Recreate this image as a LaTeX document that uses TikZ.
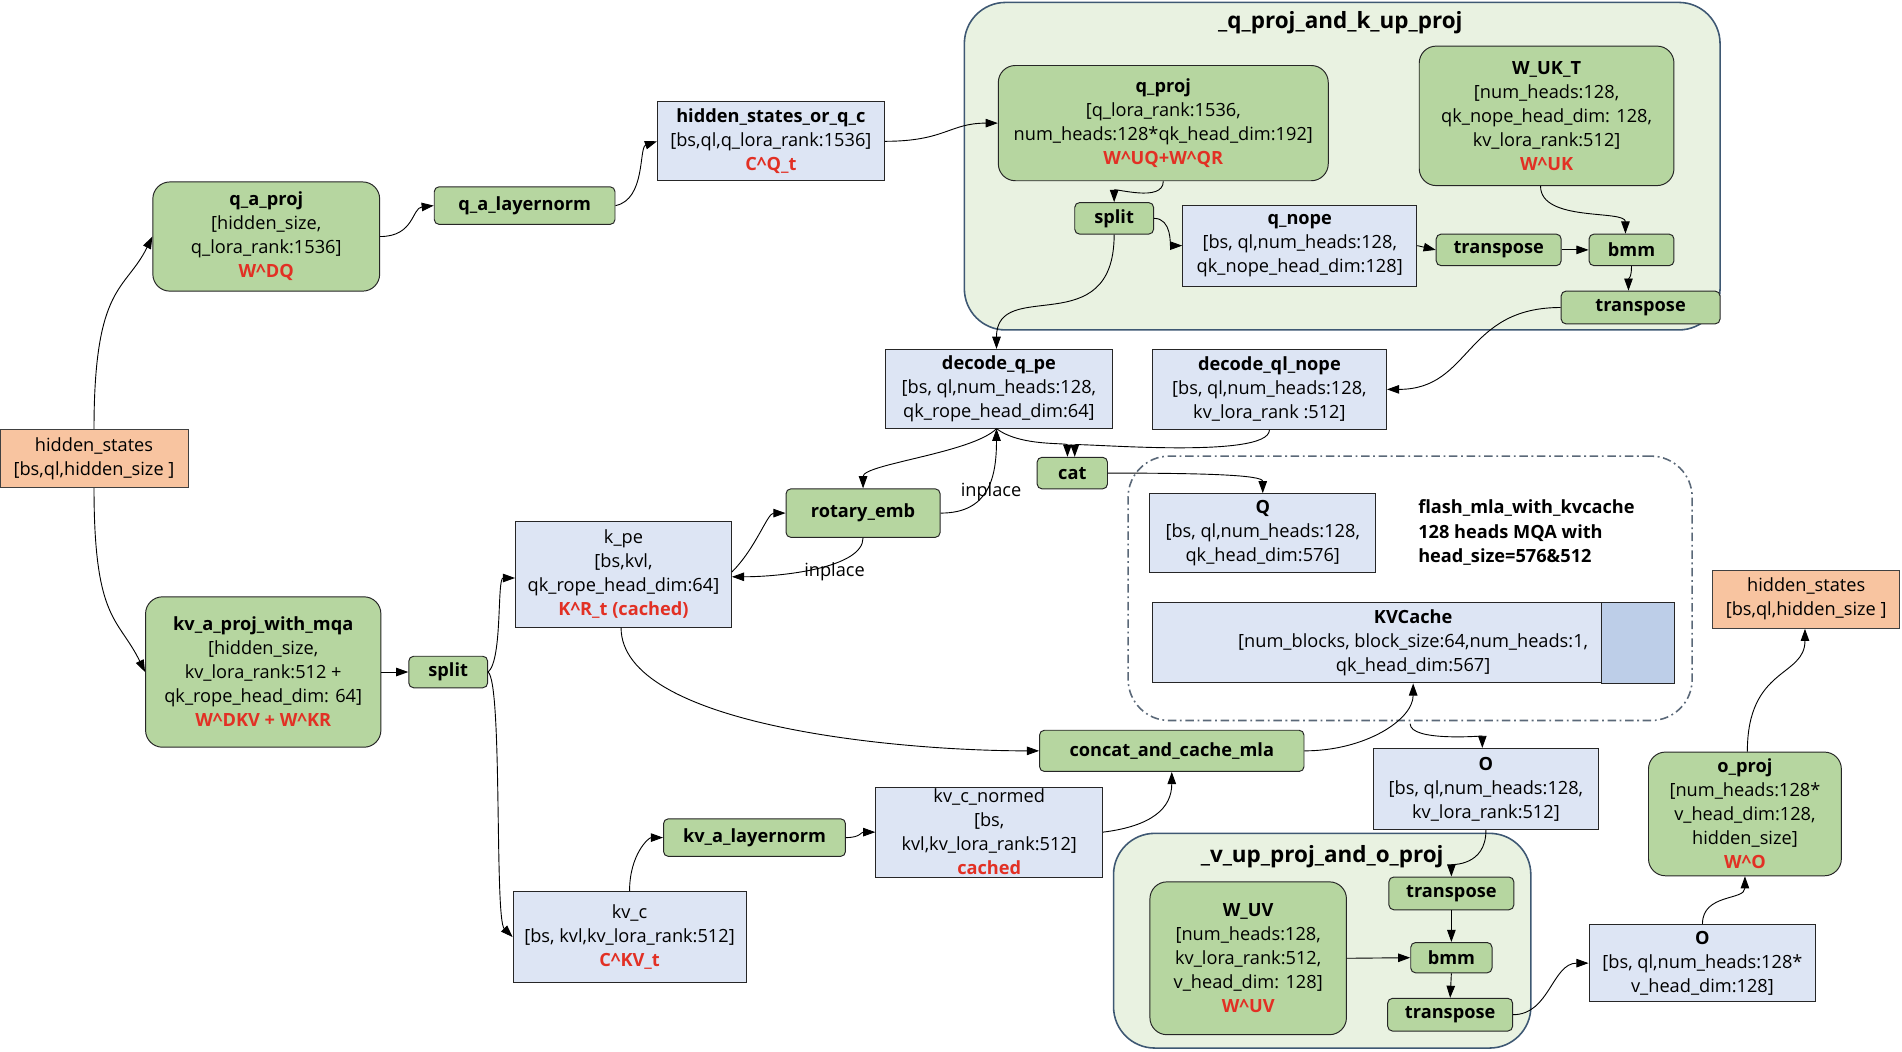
\documentclass[tikz,border=0pt]{standalone}
\usepackage{fontspec}
\setmainfont{Open Sans}
\usetikzlibrary{arrows.meta}
\definecolor{gfill}{RGB}{182,214,160}
\definecolor{cfill}{RGB}{233,242,225}
\definecolor{bfill}{RGB}{221,229,244}
\definecolor{kvdark}{RGB}{189,206,232}
\definecolor{ofill}{RGB}{248,196,160}
\definecolor{cborder}{RGB}{62,88,115}
\definecolor{dborder}{RGB}{90,104,120}
\definecolor{myred}{RGB}{226,48,36}
\newcommand\rt[1]{\textcolor{myred}{\bfseries #1}}
\newcommand\cc{\textasciicircum}
\newcommand\bx[7]{\node[#2,minimum width={#5-#3},minimum height={#6-#4}] (#1) at ({(#3+#5)/2},{(#4+#6)/2}) {#7};}
\tikzset{
  base/.style={draw=black!85,line width=0.8pt,align=center,inner sep=1pt,
    font=\fontsize{15}{19.8}\selectfont},
  gbig/.style={base,fill=gfill,rounded corners=14pt},
  gop/.style={base,fill=gfill,rounded corners=4pt,font=\fontsize{15}{19.8}\selectfont\bfseries},
  bbox/.style={base,fill=bfill},
  obox/.style={base,fill=ofill,draw=black!75},
  cont/.style={draw=cborder,line width=1.3pt,fill=cfill,rounded corners=34pt},
  dcont/.style={draw=dborder,line width=1.3pt,dash pattern=on 7pt off 3pt on 1.5pt off 3pt,rounded corners=34pt},
  conn/.style={-{Triangle[length=10pt,width=7pt]},line width=0.75pt,black},
  lbl/.style={font=\fontsize{15}{17}\selectfont,inner sep=0pt},
  ttl/.style={font=\fontsize{18.5}{21}\selectfont\bfseries,inner sep=0pt}
}
\begin{document}
\begin{tikzpicture}[x=1pt,y=-1pt]
\useasboundingbox (0,0) rectangle (1568,867);
% containers
\node[cont,minimum width=623,minimum height=270] (c1) at (1106.5,137) {};
\node[ttl] (c1t) at (1105,19) {\_q\_proj\_and\_k\_up\_proj};
\node[dcont,minimum width=465,minimum height=218] (fl) at (1162.5,485) {};
\node[cont,minimum width=344,minimum height=177] (c2) at (1090,775.5) {};
\node[ttl] (c2t) at (1090,706) {\_v\_up\_proj\_and\_o\_proj};
% nodes
\bx{hsl}{obox}{0}{354}{155}{402}{hidden\_states\\{}[bs,ql,hidden\_size ]}
\bx{qap}{gbig}{126}{150}{313}{240}{\textbf{q\_a\_proj}\\{}[hidden\_size,\\q\_lora\_rank:1536]\\\rt{W\cc{}DQ}}
\bx{qal}{gop}{358}{154}{507}{185}{q\_a\_layernorm}
\bx{hsqc}{bbox}{542}{84}{729}{149}{\textbf{hidden\_states\_or\_q\_c}\\{}[bs,ql,q\_lora\_rank:1536]\\\rt{C\cc{}Q\_t}}
\bx{qproj}{gbig}{823}{54}{1095}{149}{\textbf{q\_proj}\\{}[q\_lora\_rank:1536,\\num\_heads:128*qk\_head\_dim:192]\\\rt{W\cc{}UQ+W\cc{}QR}}
\bx{wukt}{gbig}{1170}{38}{1380}{153}{\textbf{W\_UK\_T}\\{}[num\_heads:128,\\qk\_nope\_head\_dim: 128,\\kv\_lora\_rank:512]\\\rt{W\cc{}UK}}
\bx{sp1}{gop}{886}{167}{951}{193}{split}
\bx{qnope}{bbox}{975}{169}{1168}{236}{\textbf{q\_nope}\\{}[bs, ql,num\_heads:128,\\qk\_nope\_head\_dim:128]}
\bx{tr1}{gop}{1184}{193}{1287}{219}{transpose}
\bx{bmm1}{gop}{1310}{193}{1380}{219}{bmm}
\bx{tr2}{gop}{1287}{240}{1418}{267}{transpose}
\bx{dqpe}{bbox}{730}{288}{917}{353}{\textbf{decode\_q\_pe}\\{}[bs, ql,num\_heads:128,\\qk\_rope\_head\_dim:64]}
\bx{dqln}{bbox}{950}{288}{1143}{354}{\textbf{decode\_ql\_nope}\\{}[bs, ql,num\_heads:128,\\kv\_lora\_rank :512]}
\bx{cat}{gop}{855}{377}{913}{403}{cat}
\bx{rot}{gop}{648}{403}{775}{443}{rotary\_emb}
\bx{kpe}{bbox}{425}{430}{603}{517}{k\_pe\\{}[bs,kvl,\\qk\_rope\_head\_dim:64]\\\rt{K\cc{}R\_t (cached)}}
\bx{Q}{bbox}{948}{407}{1134}{472}{\textbf{Q}\\{}[bs, ql,num\_heads:128,\\qk\_head\_dim:576]}
\node[anchor=west,align=left,inner sep=0pt,font=\fontsize{15}{20}\selectfont\bfseries] (flt) at (1169,439) {flash\_mla\_with\_kvcache\\128 heads MQA with\\head\_size=576\&512};
\bx{KV}{bbox}{950}{497}{1380}{563}{\textbf{KVCache}\\{}[num\_blocks, block\_size:64,num\_heads:1,\\qk\_head\_dim:567]}
\draw[fill=kvdark,line width=0.8pt,draw=black!85] ([xshift=-60pt]KV.north east) rectangle (KV.south east);
\bx{hsr}{obox}{1412}{470}{1566}{518}{hidden\_states\\{}[bs,ql,hidden\_size ]}
\bx{kva}{gbig}{120}{492}{314}{616}{\textbf{kv\_a\_proj\_with\_mqa}\\{}[hidden\_size,\\kv\_lora\_rank:512 +\\qk\_rope\_head\_dim: 64]\\\rt{W\cc{}DKV + W\cc{}KR}}
\bx{sp2}{gop}{337}{541}{402}{567}{split}
\bx{concat}{gop}{857}{602}{1075}{636}{concat\_and\_cache\_mla}
\bx{kval}{gop}{547}{675}{697}{706}{kv\_a\_layernorm}
\bx{kvcn}{bbox}{722}{649}{909}{723}{kv\_c\_normed\\{}[bs,\\kvl,kv\_lora\_rank:512]\\\rt{cached}}
\bx{kvc}{bbox}{423}{735}{615}{810}{kv\_c\\{}[bs, kvl,kv\_lora\_rank:512]\\\rt{C\cc{}KV\_t}}
\bx{Om}{bbox}{1132}{617}{1318}{684}{\textbf{O}\\{}[bs, ql,num\_heads:128,\\kv\_lora\_rank:512]}
\bx{wuv}{gbig}{948}{727}{1110}{853}{\textbf{W\_UV}\\{}[num\_heads:128,\\kv\_lora\_rank:512,\\v\_head\_dim: 128]\\\rt{W\cc{}UV}}
\bx{trb1}{gop}{1145}{723}{1248}{750}{transpose}
\bx{bmmb}{gop}{1163}{777}{1230}{802}{bmm}
\bx{trb2}{gop}{1144}{823}{1247}{850}{transpose}
\bx{Obr}{bbox}{1310}{762}{1497}{826}{\textbf{O}\\{}[bs, ql,num\_heads:128*\\v\_head\_dim:128]}
\bx{oproj}{gbig}{1359}{620}{1518}{722}{\textbf{o\_proj}\\{}[num\_heads:128*\\v\_head\_dim:128,\\hidden\_size]\\\rt{W\cc{}O}}
% labels
\node[lbl] (ip1) at (817,405) {inplace};
\node[lbl] (ip2) at (688,471) {inplace};
% connectors
\draw[conn] (hsl.north) .. controls +(0,-120) and +(-22,45) .. (qap.west);
\draw[conn] (hsl.south) .. controls +(0,110) and +(-22,-45) .. (kva.west);
\draw[conn] (qap.east) .. controls +(28,0) and +(-18,2) .. (qal.west);
\draw[conn] (qal.east) .. controls +(25,-5) and +(-15,5) .. (hsqc.west);
\draw[conn] (hsqc.east) .. controls +(50,0) and +(-40,0) .. (qproj.west);
\draw[conn] (qproj.south) .. controls +(0,18) and +(0,-12) .. (sp1.north);
\draw[conn] (sp1.east) .. controls +(15,0) and +(-10,0) .. (qnope.west);
\draw[conn] (qnope.east) -- (tr1.west);
\draw[conn] (tr1.east) -- (bmm1.west);
\draw[conn] ([xshift=-5pt]wukt.south) .. controls +(0,30) and +(0,-20) .. ([xshift=-5pt]bmm1.north);
\draw[conn] (bmm1.south) .. controls +(0,10) and +(0,-10) .. ([xshift=-10pt]tr2.north);
\draw[conn] (tr2.west) .. controls +(-80,0) and +(70,0) .. (dqln.east);
\draw[conn] (sp1.south) .. controls +(0,90) and +(0,-60) .. ([xshift=-2pt]dqpe.north);
\draw[conn] ([xshift=-2pt]dqpe.south) .. controls +(20,15) and +(0,-12) .. ([xshift=-4pt]cat.north);
\draw[conn] (dqln.south) .. controls +(0,25) and +(0,-12) .. ([xshift=2pt]cat.north);
\draw[conn] ([xshift=-2pt]dqpe.south) .. controls +(-20,20) and +(0,-20) .. (rot.north);
\draw[conn] (rot.east) .. controls +(40,0) and +(0,40) .. ([xshift=-2pt]dqpe.south);
\draw[conn] ([yshift=2pt]kpe.east) .. controls +(20,-20) and +(-15,0) .. (rot.west);
\draw[conn] (rot.south) .. controls +(0,25) and +(40,0) .. ([yshift=-2pt]kpe.east);
\draw[conn] (kva.east) -- (sp2.west);
\draw[conn] (sp2.east) .. controls +(12,-10) and +(-15,0) .. ([yshift=-3pt]kpe.west);
\draw[conn] (sp2.east) .. controls +(12,10) and +(-15,-15) .. (kvc.west);
\draw[conn] (kvc.north) .. controls +(0,-30) and +(-12,0) .. (kval.west);
\draw[conn] (kval.east) .. controls +(12,0) and +(-12,0) .. (kvcn.west);
\draw[conn] (kvcn.east) .. controls +(40,-5) and +(0,30) .. (concat.south);
\draw[conn] ([xshift=-2pt]kpe.south) .. controls +(0,80) and +(-120,0) .. (concat.west);
\draw[conn] (concat.east) .. controls +(50,0) and +(0,30) .. (KV.south);
\draw[conn] ([yshift=-2pt]fl.south) .. controls +(0,15) and +(0,-10) .. ([xshift=-3pt]Om.north);
\draw[conn] (cat.east) .. controls +(80,0) and +(0,-15) .. (Q.north);
\draw[conn] (Om.south) .. controls +(0,30) and +(0,-10) .. (trb1.north);
\draw[conn] (trb1.south) -- (bmmb.north);
\draw[conn] (wuv.east) -- (bmmb.west);
\draw[conn] (bmmb.south) -- (trb2.north);
\draw[conn] (trb2.east) .. controls +(30,0) and +(-30,0) .. (Obr.west);
\draw[conn] (Obr.north) .. controls +(0,-25) and +(0,20) .. (oproj.south);
\draw[conn] ([xshift=2pt]oproj.north) .. controls +(0,-70) and +(0,40) .. ([xshift=-1pt]hsr.south);
\end{tikzpicture}
\end{document}
